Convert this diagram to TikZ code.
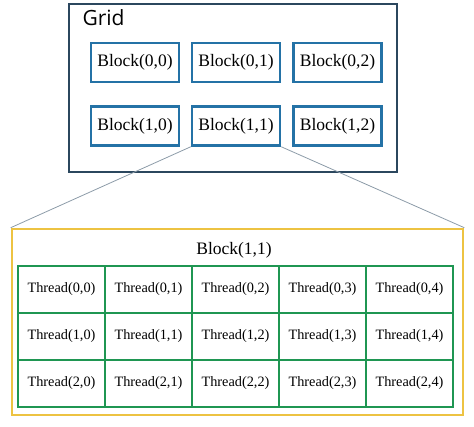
\documentclass[tikz,border=0pt]{standalone}
\usepackage{fontspec}
\setmainfont{Liberation Serif}
\newfontfamily\gridfont{Open Sans}
\definecolor{gridc}{HTML}{2B475E}
\definecolor{blockc}{HTML}{2472A6}
\definecolor{yelc}{HTML}{EDC342}
\definecolor{grnc}{HTML}{1F9652}
\definecolor{linec}{HTML}{8C9BA8}
\begin{document}
\begin{tikzpicture}[x=1pt,y=-1pt,
  blockbox/.style={draw=blockc,line width=2.5pt,minimum width=88pt,minimum height=39pt,inner sep=0pt,font=\fontsize{17.5}{19}\selectfont},
  threadcell/.style={draw=grnc,line width=2.5pt,minimum width=87pt,minimum height=47pt,inner sep=0pt,font=\fontsize{14.3}{16}\selectfont}]
\useasboundingbox (0,0) rectangle (474,426);
% Grid box
\node[draw=gridc,line width=2.5pt,minimum width=328pt,minimum height=168pt,inner sep=0pt] (grid) at (233,88) {};
\node[anchor=west,font=\gridfont\fontsize{21}{23}\selectfont] (gridlbl) at (79,18) {Grid};
\node[blockbox] (b00) at (135,62.5) {Block(0,0)};
\node[blockbox] (b01) at (236,62.5) {Block(0,1)};
\node[blockbox] (b02) at (337.5,62.5) {Block(0,2)};
\node[blockbox] (b10) at (135,126) {Block(1,0)};
\node[blockbox] (b11) at (236,126) {Block(1,1)};
\node[blockbox] (b12) at (337.5,126) {Block(1,2)};
% Expanded block
\node[draw=yelc,line width=2.6pt,minimum width=451pt,minimum height=186pt,inner sep=0pt] (big) at (237.5,322) {};
\node[font=\fontsize{17.5}{19}\selectfont] (bigl) at (234,250) {Block(1,1)};
\foreach \r in {0,1,2}{
  \foreach \c in {0,1,2,3,4}{
    \node[threadcell] (t\r\c) at ({61.5+87*\c},{289.5+47*\r}) {Thread(\r,\c)};
  }
}
\draw[linec,line width=0.8pt] (b11.south west) -- (big.north west);
\draw[linec,line width=0.8pt] (b11.south east) -- (big.north east);
\end{tikzpicture}
\end{document}
